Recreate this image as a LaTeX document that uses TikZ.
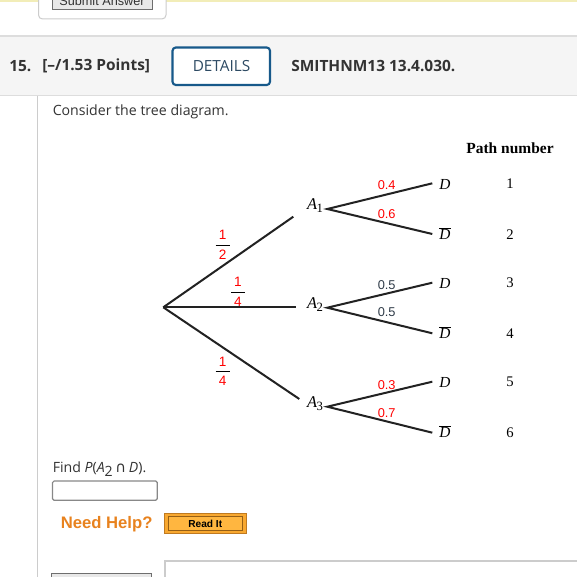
\documentclass[tikz,border=0pt]{standalone}
\usepackage{fontspec}
\setmainfont{Open Sans}
\newfontfamily\serif{Liberation Serif}
\newfontfamily\arial{Liberation Sans}
\newfontfamily\djv{DejaVu Sans}
\definecolor{uitext}{HTML}{333333}
\definecolor{bandgray}{HTML}{F5F5F5}
\definecolor{linegray}{HTML}{DDDDDD}
\definecolor{vline}{HTML}{CCCCCC}
\definecolor{detblue}{HTML}{17598A}
\definecolor{dettext}{HTML}{2D4A63}
\definecolor{treeline}{HTML}{222222}
\definecolor{probred}{HTML}{FF0000}
\definecolor{probdark}{HTML}{2F3B48}
\definecolor{helporange}{HTML}{E8821E}
\definecolor{btnorange}{HTML}{FFB640}
\definecolor{btnborder}{HTML}{C07A20}
\definecolor{yline}{HTML}{F2EDB8}
\newcommand\Asub[1]{{\serif\itshape A}\kern-0.3pt\raisebox{-2.6pt}{\serif\fontsize{9.5pt}{10pt}\selectfont #1}}
\newcommand\Dbar{$\overline{\hbox{\serif\itshape D}}$}
\tikzset{
  branch/.style={draw=treeline, line width=1.5pt},
  prob/.style={font=\arial\fontsize{9.6pt}{11pt}\selectfont, inner sep=0pt},
  fracdig/.style={font=\arial\fontsize{10.2pt}{11pt}\selectfont, text=probred, inner sep=0pt},
  fracbar/.style={draw=black, line width=0.8pt},
  outcome/.style={font=\serif\itshape\fontsize{11.5pt}{13pt}\selectfont, inner sep=0pt, text=black},
  pathnum/.style={font=\serif\fontsize{11pt}{13pt}\selectfont, inner sep=0pt, text=black},
  alabel/.style={font=\fontsize{12.3pt}{14pt}\selectfont, inner sep=0pt, text=black},
  uibold/.style={font=\bfseries\fontsize{11.6pt}{13pt}\selectfont, text=uitext, inner sep=0pt},
}
\begin{document}
\begin{tikzpicture}[x=0.75pt,y=-0.75pt]
\useasboundingbox (0,0) rectangle (577,577);
\clip (0,0) rectangle (577,577);
\fill[white] (0,0) rectangle (577,577);
% top area
\draw[yline, line width=1.2pt] (0,1.2) -- (577,1.2);
\draw[vline, fill=white, rounded corners=3pt, line width=0.75pt] (38.5,-10) rectangle (166,19);
\draw[fill={rgb,255:red,232;green,232;blue,232}, draw={rgb,255:red,110;green,110;blue,110}, line width=0.75pt] (52,-10) rectangle (152,9.5);
\node[font=\arial\fontsize{9.5pt}{11pt}\selectfont, text=uitext, inner sep=0pt] (submit) at (102,1) {Submit Answer};
% band
\fill[bandgray] (0,36) rectangle (577,95.5);
\draw[linegray, line width=1pt] (0,36) -- (577,36);
\draw[linegray, line width=1pt] (0,95.5) -- (577,95.5);
\node[uibold, anchor=west] (qnum) at (9,66) {15.};
\node[uibold, anchor=west] (pts) at (42,66) {[–/1.53 Points]};
\draw[detblue, line width=1.6pt, rounded corners=2.5pt, fill=white] (172.5,47.5) rectangle (270,85);
\node[font=\fontsize{11.5pt}{13pt}\selectfont, text=dettext, inner sep=0pt] (details) at (221.5,66) {DETAILS};
\node[uibold, anchor=west] (code) at (291,66) {SMITHNM13 13.4.030.};
% left vertical line
\draw[vline, line width=1pt] (37.7,96) -- (37.7,577);
\node[font=\fontsize{10.6pt}{12pt}\selectfont, text=uitext, anchor=west, inner sep=0pt] (consider) at (52.5,111.5) {Consider the tree diagram.};
% tree
\coordinate (root) at (163.3,307.3);
\coordinate (e1) at (293.3,216.7);
\coordinate (e2) at (295.7,307.3);
\coordinate (e3) at (299.3,399);
\draw[branch] (root) -- (e1);
\draw[branch] (root) -- (e2);
\draw[branch] (root) -- (e3);
\node[alabel] (A1) at (315,205.5) {\Asub{1}};
\node[alabel] (A2) at (315,304.5) {\Asub{2}};
\node[alabel] (A3) at (315,403.5) {\Asub{3}};
\coordinate (p1) at (327.3,209);
\coordinate (p2) at (327.3,307.7);
\coordinate (p3) at (327.3,406.7);
\coordinate (d1) at (432.3,183.3);
\coordinate (d2) at (432.3,234);
\coordinate (d3) at (432.3,282.7);
\coordinate (d4) at (432.3,333.3);
\coordinate (d5) at (432.3,381.7);
\coordinate (d6) at (432.3,432.7);
\draw[branch] (d1) -- (p1) -- (d2);
\draw[branch] (d3) -- (p2) -- (d4);
\draw[branch] (d5) -- (p3) -- (d6);
% probabilities on second level
\node[prob, text=probred] (q1) at (386.7,185) {0.4};
\node[prob, text=probred] (q2) at (386.7,214) {0.6};
\node[prob, text=probdark] (q3) at (386.7,285) {0.5};
\node[prob, text=probdark] (q4) at (386.7,312.3) {0.5};
\node[prob, text=probred] (q5) at (386.7,385) {0.3};
\node[prob, text=probred] (q6) at (386.7,412.7) {0.7};
% fractions
\node[fracdig] (f1n) at (222.7,235.3) {1};
\draw[fracbar] (215.7,245.7) -- (229.7,245.7);
\node[fracdig] (f1d) at (222.7,254.8) {2};
\node[fracdig] (f2n) at (238,282.3) {1};
\draw[fracbar] (231,292.3) -- (245,292.3);
\node[fracdig] (f2d) at (238,301.7) {4};
\node[fracdig] (f3n) at (222.7,361.7) {1};
\draw[fracbar] (215.7,371.3) -- (229.7,371.3);
\node[fracdig] (f3d) at (222.7,380.7) {4};
% outcomes
\node[outcome] (o1) at (445,184) {D};
\node[outcome] (o2) at (445,233.5) {\Dbar};
\node[outcome] (o3) at (445,283) {D};
\node[outcome] (o4) at (445,332.5) {\Dbar};
\node[outcome] (o5) at (445,382) {D};
\node[outcome] (o6) at (445,431.5) {\Dbar};
\node[font=\serif\bfseries\fontsize{11.6pt}{13pt}\selectfont, inner sep=0pt, text=black] (phead) at (510,148) {Path number};
\node[pathnum] (n1) at (510,184) {1};
\node[pathnum] (n2) at (510,234.5) {2};
\node[pathnum] (n3) at (510,283) {3};
\node[pathnum] (n4) at (510,333.5) {4};
\node[pathnum] (n5) at (510,382) {5};
\node[pathnum] (n6) at (510,433) {6};
% find
\node[font=\fontsize{10.6pt}{12pt}\selectfont, text=uitext, anchor=west, inner sep=0pt] (find) at (52.5,469) {Find \textit{P}(\textit{A}\raisebox{-3.5pt}{2}\hspace{2pt}{\djv\fontsize{11pt}{12pt}\selectfont ∩}\hspace{2pt}\textit{D}).};
\draw[draw={rgb,255:red,136;green,136;blue,136}, line width=0.9pt, rounded corners=1.2pt, fill=white] (52.5,481) rectangle (157.3,500.3);
\node[font=\arial\bfseries\fontsize{12.5pt}{14pt}\selectfont, text=helporange, anchor=west, inner sep=0pt] (help) at (60.5,524.5) {Need Help?};
\draw[btnborder, fill={rgb,255:red,248;green,168;blue,48}, line width=0.8pt] (164.5,513.3) rectangle (246.5,533.5);
\draw[draw={rgb,255:red,150;green,95;blue,20}, fill=btnorange, line width=0.8pt] (168.3,516.5) rectangle (242.3,530.3);
\node[font=\arial\bfseries\fontsize{7.6pt}{9pt}\selectfont, text=black, inner sep=0pt] (readit) at (205.3,523.5) {Read It};
% bottom
\draw[vline, line width=1pt, fill=white] (165,590) -- (165,561) -- (590,561);
\draw[fill={rgb,255:red,232;green,232;blue,232}, draw={rgb,255:red,110;green,110;blue,110}, line width=0.75pt] (51.5,573) rectangle (151,590);
\end{tikzpicture}
\end{document}
